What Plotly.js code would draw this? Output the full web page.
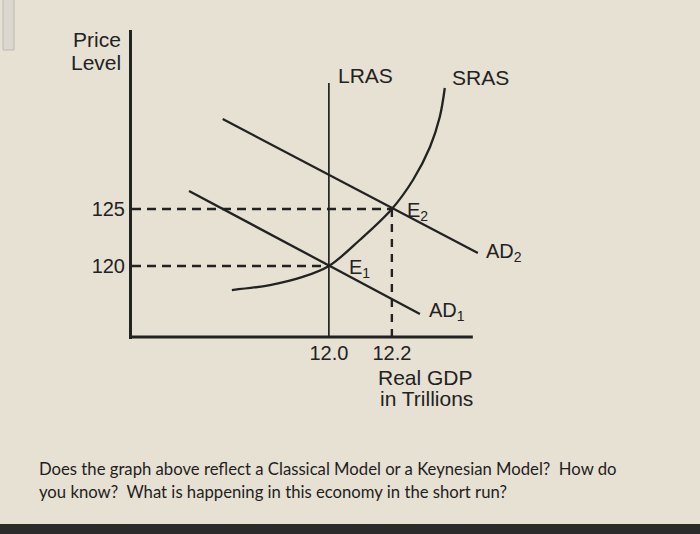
<!DOCTYPE html>
<html>
<head>
<meta charset="utf-8">
<script src="https://cdn.plot.ly/plotly-3.0.1.min.js"></script>
<style>
html,body{margin:0;padding:0;background:#e7e1d3;}
#chart{width:700px;height:534px;}
</style>
</head>
<body>
<div id="chart"></div>
<script>
// ---- data ----
const xTickVals = [12.0, 12.2];
const xTickText = ["12.0", "12.2"];
const yTickVals = [120, 125];
const yTickText = ["120", "125"];

const ad1X = [11.556, 12.289];
const ad1Y = [126.58, 115.79];
const ad2X = [11.663, 12.473];
const ad2Y = [132.89, 121.14];
const srasX = [11.692, 11.813, 11.917, 12.0, 12.098, 12.2, 12.267, 12.321, 12.352, 12.368];
const srasY = [117.89, 118.33, 119.04, 120.0, 122.28, 125.0, 127.54, 130.44, 133.07, 135.61];
const lrasX = 12.0;
const lrasTop = 136.05;
const e1 = [12.0, 120];
const e2 = [12.2, 125];
const axisXMin = 11.375;
const axisXMax = 12.457;
const axisYMin = 113.77;

// ---- layout geometry ----
const W = 700, H = 534;
const L = 132, R = 560, T = 30, B = 339;
const pxPerX = 315, pxPerY = 11.4;
const xRange = [axisXMin, axisXMin + (R - L) / pxPerX];
const yRange = [axisYMin - (B - 337) / pxPerY, axisYMin - (B - 337) / pxPerY + (B - T) / pxPerY];
const px = p => (p - L) / (R - L);
const py = p => (B - p) / (B - T);

const ink = '#222222';
const font = 'Liberation Sans, Arial, Helvetica, sans-serif';

const traces = [
  {x: [axisXMin, axisXMax], y: [axisYMin, axisYMin], mode: 'lines', line: {color: ink, width: 3}},
  {x: [lrasX, lrasX], y: [axisYMin, lrasTop], mode: 'lines', line: {color: ink, width: 1.7}},
  {x: [axisXMin, e2[0]], y: [e2[1], e2[1]], mode: 'lines', line: {color: ink, width: 2.4, dash: '9px,6px'}},
  {x: [axisXMin, e1[0]], y: [e1[1], e1[1]], mode: 'lines', line: {color: ink, width: 2.4, dash: '9px,6px'}},
  {x: [e2[0], e2[0]], y: [e2[1], axisYMin], mode: 'lines', line: {color: ink, width: 2.4, dash: '8px,7px'}},
  {x: ad1X, y: ad1Y, mode: 'lines', line: {color: ink, width: 2.3}},
  {x: ad2X, y: ad2Y, mode: 'lines', line: {color: ink, width: 2.3}},
  {x: srasX, y: srasY, mode: 'lines', line: {color: ink, width: 2.3, shape: 'spline', smoothing: 1}}
];

function ann(text, x, y, xanchor, size, extra) {
  return Object.assign({text: text, x: px(x), y: py(y), xref: 'paper', yref: 'paper',
    xanchor: xanchor, yanchor: 'middle', showarrow: false,
    font: {family: font, size: size, color: ink}}, extra || {});
}

const qFont = {family: 'Lato, Carlito, sans-serif', size: 16.7, color: '#1e1e1e'};

const annotations = [
  ann('Price', 123, 40, 'right', 21),
  ann('Level', 123, 62, 'right', 21),
  ann('LRAS', 365, 75, 'center', 21),
  ann('SRAS', 480, 77, 'center', 21),
  ann('E<sub>2</sub>', 405, 211, 'left', 20),
  ann('E<sub>1</sub>', 347, 268, 'left', 20),
  ann('AD<sub>2</sub>', 484, 252, 'left', 20),
  ann('AD<sub>1</sub>', 427, 311, 'left', 20),
  ann('Real GDP', 425, 377, 'center', 21),
  ann('in Trillions', 426, 398, 'center', 21),
  ann('Does the graph above reflect a Classical Model or a Keynesian Model?&nbsp; How do', 37, 469, 'left', 16.7, {font: qFont}),
  ann('you know?&nbsp; What is happening in this economy in the short run?', 37, 492, 'left', 16.7, {font: qFont})
];

const shapes = [
  {type: 'rect', xref: 'paper', yref: 'paper', x0: px(0), x1: px(700), y0: py(534), y1: py(524),
   fillcolor: '#2b2b2b', line: {width: 0}, layer: 'above'},
  {type: 'rect', xref: 'paper', yref: 'paper', x0: px(3), x1: px(14), y0: py(50), y1: py(-2),
   fillcolor: '#dcd8d0', line: {width: 1, color: '#bdb9b1'}, layer: 'above'}
];

const layout = {
  width: W, height: H,
  margin: {l: L, r: W - R, t: T, b: H - B, pad: 0},
  paper_bgcolor: '#e7e1d3', plot_bgcolor: '#e7e1d3',
  showlegend: false,
  xaxis: {range: xRange, showgrid: false, zeroline: false, showline: false,
    tickmode: 'array', tickvals: xTickVals, ticktext: xTickText, ticks: '',
    tickfont: {family: font, size: 20, color: ink}, fixedrange: true},
  yaxis: {range: yRange, showgrid: false, zeroline: false, showline: true, linewidth: 3, linecolor: ink,
    tickmode: 'array', tickvals: yTickVals, ticktext: yTickText, ticks: 'inside', ticklen: 6, tickwidth: 2, tickcolor: ink,
    tickfont: {family: font, size: 20, color: ink}, fixedrange: true},
  annotations: annotations,
  shapes: shapes
};

Plotly.newPlot('chart', traces, layout, {displayModeBar: false, staticPlot: true});
</script>
</body>
</html>
